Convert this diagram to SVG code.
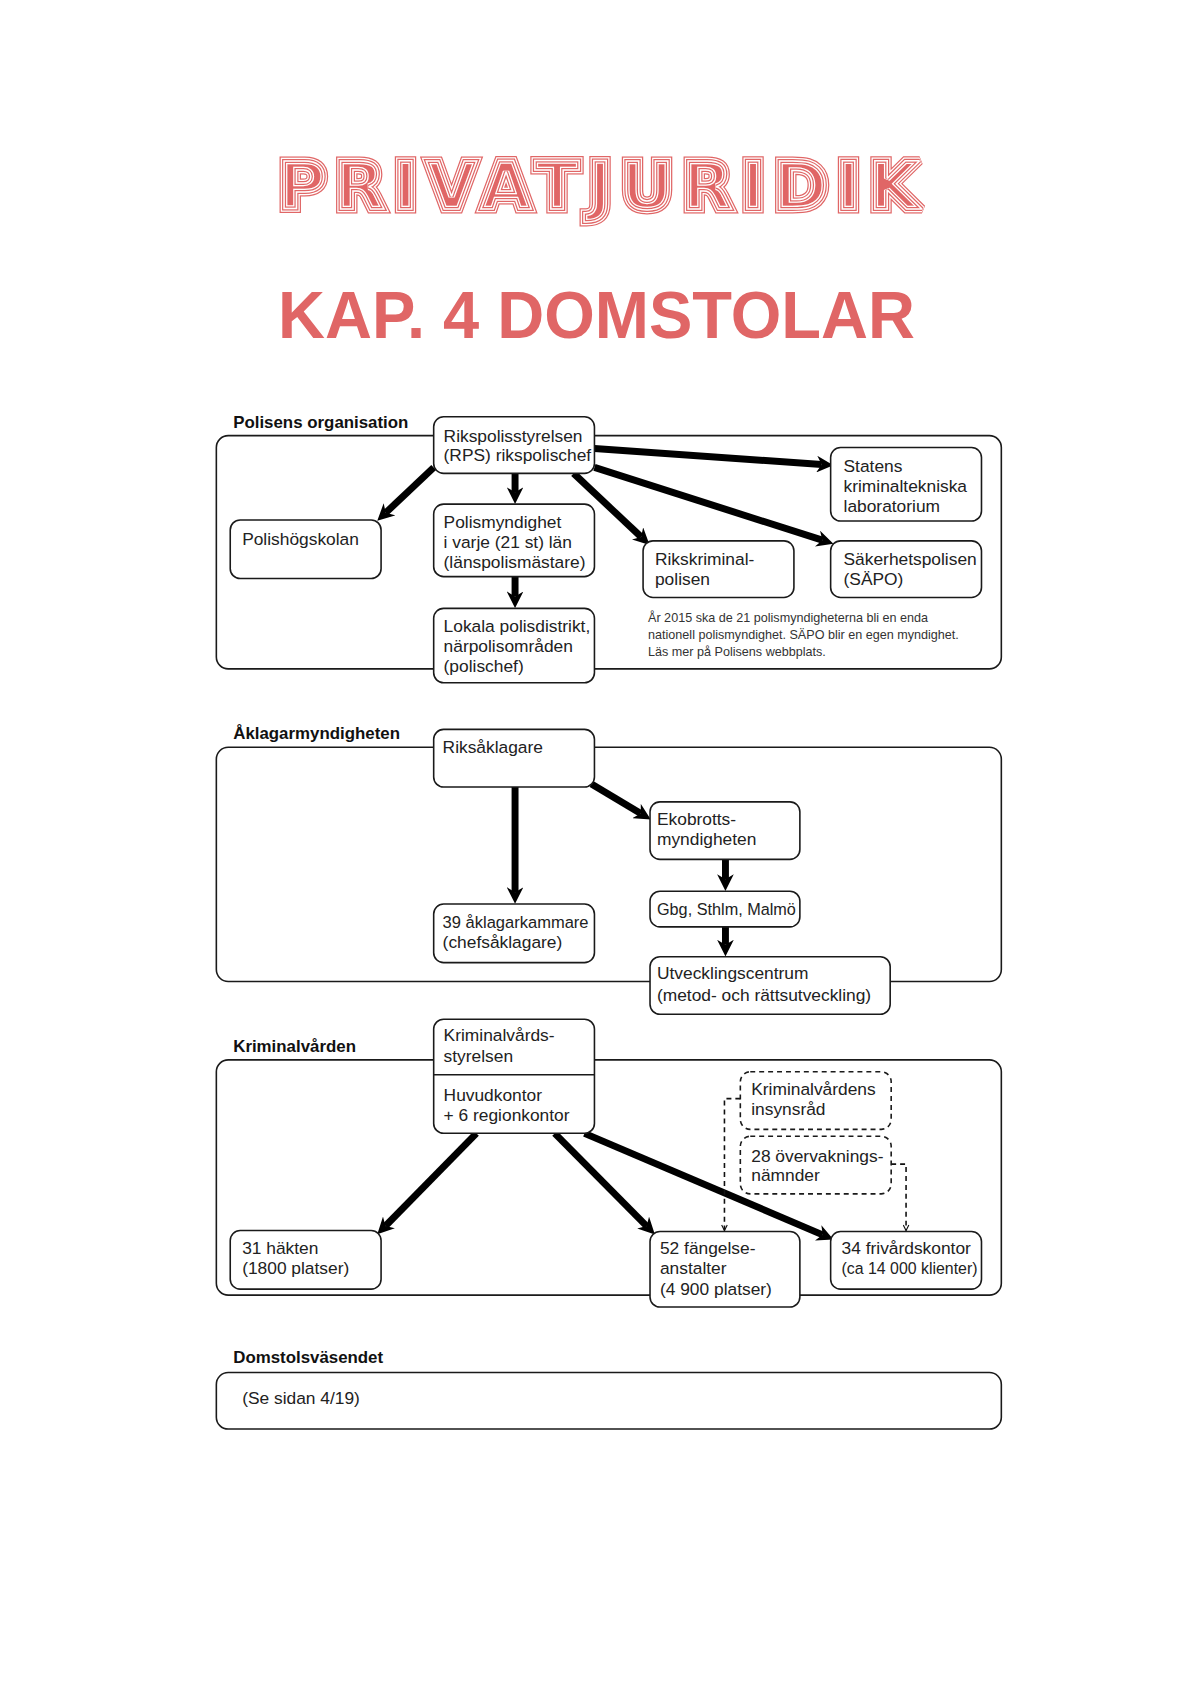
<svg xmlns="http://www.w3.org/2000/svg" xmlns:xlink="http://www.w3.org/1999/xlink" width="1200" height="1697" viewBox="0 0 1200 1697">
<style>
.frame{fill:none;stroke:#1a1a1a;stroke-width:1.6}
.box{fill:#fff;stroke:#1a1a1a;stroke-width:1.6}
.dbox{fill:#fff;stroke:#1a1a1a;stroke-width:1.6;stroke-dasharray:5 4}
.t{font-family:"Liberation Sans",Arial,sans-serif;font-size:17.5px;fill:#222}
.lbl{font-family:"Liberation Sans",Arial,sans-serif;font-size:17px;font-weight:bold;fill:#111}
.note{font-family:"Liberation Sans",Arial,sans-serif;font-size:12.7px;fill:#333}
.thick{fill:none;stroke:#000;stroke-width:7;marker-end:url(#ah)}
.dash{fill:none;stroke:#111;stroke-width:1.6;stroke-dasharray:5 4;marker-end:url(#sh)}
</style>
<defs>
<marker id="ah" viewBox="0 0 10 10" refX="3" refY="5" markerWidth="2.4" markerHeight="2.4" orient="auto" markerUnits="strokeWidth">
<path d="M0,0 L10,5 L0,10 L3,5 z" fill="#000"/>
</marker>
<marker id="sh" viewBox="0 0 10 10" refX="9" refY="5" markerWidth="7" markerHeight="7" orient="auto" markerUnits="userSpaceOnUse">
<path d="M1,1 L9,5 L1,9" fill="none" stroke="#111" stroke-width="1.6"/>
</marker>
<text id="ttl" x="278" y="209" font-family="DejaVu Sans,Verdana,sans-serif" font-weight="bold" font-size="66" textLength="642" lengthAdjust="spacing">PRIVATJURIDIK</text>
</defs>
<rect width="1200" height="1697" fill="#fff"/>
<g id="title" stroke-linejoin="miter" stroke-miterlimit="2">
<use xlink:href="#ttl" fill="#e06666" stroke="#e06666" stroke-width="9"/>
<use xlink:href="#ttl" fill="none" stroke="#fff" stroke-width="6.5"/>
<use xlink:href="#ttl" fill="none" stroke="#e06666" stroke-width="4"/>
<use xlink:href="#ttl" fill="none" stroke="#fff" stroke-width="1.5"/>
</g>
<text id="subtitle" x="278" y="338" font-family="Liberation Sans,Arial,sans-serif" font-weight="bold" font-size="67" fill="#e06666" textLength="637" lengthAdjust="spacingAndGlyphs">KAP. 4 DOMSTOLAR</text>

<g id="diagram" transform="scale(0.9924)">
<g id="frames">
<rect class="frame" x="218" y="439" width="791" height="235" rx="12"/>
<rect class="frame" x="218" y="753" width="791" height="236" rx="12"/>
<rect class="frame" x="218" y="1068" width="791" height="237" rx="12"/>
<rect class="frame" x="218" y="1383" width="791" height="57" rx="12"/>
</g>
<g id="section-labels">
<text class="lbl" x="235" y="431">Polisens organisation</text>
<text class="lbl" x="235" y="745">Åklagarmyndigheten</text>
<text class="lbl" x="235" y="1060">Kriminalvården</text>
<text class="lbl" x="235" y="1373">Domstolsväsendet</text>
</g>

<g id="connectors">
<line class="thick" x1="599" y1="452" x2="828" y2="468"/>
<line class="thick" x1="599" y1="471" x2="828.6" y2="544.3"/>
<line class="thick" x1="578" y1="477" x2="646" y2="541"/>
<line class="thick" x1="437" y1="471" x2="388.7" y2="516.7"/>
<line class="thick" x1="519" y1="477" x2="519" y2="496"/>
<line class="thick" x1="519" y1="581" x2="519" y2="601"/>
<line class="thick" x1="519" y1="793" x2="519" y2="899"/>
<line class="thick" x1="596" y1="790" x2="645.7" y2="819.8"/>
<line class="thick" x1="731" y1="866" x2="731" y2="886"/>
<line class="thick" x1="731" y1="934" x2="731" y2="952"/>
<line class="thick" x1="480" y1="1142" x2="388.4" y2="1235.4"/>
<line class="thick" x1="559" y1="1142" x2="651.6" y2="1235.5"/>
<line class="thick" x1="589" y1="1142" x2="829" y2="1244.3"/>
<path class="dash" d="M746,1107 H730 V1240"/>
<path class="dash" d="M898,1173 H913 V1240"/>
</g>

<g id="n-rps"><rect class="box" x="437" y="420" width="162" height="57" rx="10"/>
<text class="t" x="447" y="445">Rikspolisstyrelsen</text><text class="t" x="447" y="465">(RPS) rikspolischef</text></g>
<g id="n-polishogskolan"><rect class="box" x="232" y="524" width="152" height="59" rx="10"/>
<text class="t" x="244" y="549">Polishögskolan</text></g>
<g id="n-polismyndighet"><rect class="box" x="437" y="508" width="162" height="73" rx="10"/>
<text class="t" x="447" y="532">Polismyndighet</text><text class="t" x="447" y="552">i varje (21 st) län</text><text class="t" x="447" y="572">(länspolismästare)</text></g>
<g id="n-lokala"><rect class="box" x="437" y="613" width="162" height="75" rx="10"/>
<text class="t" x="447" y="637">Lokala polisdistrikt,</text><text class="t" x="447" y="657">närpolisområden</text><text class="t" x="447" y="677">(polischef)</text></g>
<g id="n-rikskrim"><rect class="box" x="648" y="545" width="152" height="57" rx="10"/>
<text class="t" x="660" y="569">Rikskriminal-</text><text class="t" x="660" y="589">polisen</text></g>
<g id="n-statens"><rect class="box" x="837" y="451" width="152" height="74" rx="10"/>
<text class="t" x="850" y="476">Statens</text><text class="t" x="850" y="496">kriminaltekniska</text><text class="t" x="850" y="516">laboratorium</text></g>
<g id="n-sapo"><rect class="box" x="837" y="545" width="152" height="57" rx="10"/>
<text class="t" x="850" y="569">Säkerhetspolisen</text><text class="t" x="850" y="589">(SÄPO)</text></g>
<g id="n-note">
<text class="note" x="653" y="627">År 2015 ska de 21 polismyndigheterna bli en enda</text>
<text class="note" x="653" y="644">nationell polismyndighet. SÄPO blir en egen myndighet.</text>
<text class="note" x="653" y="661">Läs mer på Polisens webbplats.</text></g>

<g id="n-riksaklagare"><rect class="box" x="437" y="735" width="162" height="58" rx="10"/>
<text class="t" x="446" y="759">Riksåklagare</text></g>
<g id="n-39"><rect class="box" x="437" y="911" width="162" height="59" rx="10"/>
<text class="t" x="446" y="935" textLength="147" lengthAdjust="spacingAndGlyphs">39 åklagarkammare</text><text class="t" x="446" y="955">(chefsåklagare)</text></g>
<g id="n-ekobrott"><rect class="box" x="655" y="808" width="151" height="58" rx="10"/>
<text class="t" x="662" y="831">Ekobrotts-</text><text class="t" x="662" y="851">myndigheten</text></g>
<g id="n-gbg"><rect class="box" x="655" y="898" width="151" height="36" rx="10"/>
<text class="t" x="662" y="922" textLength="140" lengthAdjust="spacingAndGlyphs">Gbg, Sthlm, Malmö</text></g>
<g id="n-utv"><rect class="box" x="655" y="964" width="242" height="58" rx="10"/>
<text class="t" x="662" y="987">Utvecklingscentrum</text><text class="t" x="662" y="1009">(metod- och rättsutveckling)</text></g>

<g id="n-kvs"><rect class="box" x="437" y="1027" width="162" height="115" rx="10"/>
<line x1="437" y1="1083" x2="599" y2="1083" stroke="#1a1a1a" stroke-width="1.6"/>
<text class="t" x="447" y="1049">Kriminalvårds-</text><text class="t" x="447" y="1070">styrelsen</text>
<text class="t" x="447" y="1109">Huvudkontor</text><text class="t" x="447" y="1130">+ 6 regionkontor</text></g>
<g id="n-hakten"><rect class="box" x="232" y="1240" width="152" height="59" rx="10"/>
<text class="t" x="244" y="1264">31 häkten</text><text class="t" x="244" y="1284">(1800 platser)</text></g>
<g id="n-fangelse"><rect class="box" x="655" y="1241" width="151" height="76" rx="10"/>
<text class="t" x="665" y="1264">52 fängelse-</text><text class="t" x="665" y="1284">anstalter</text><text class="t" x="665" y="1305">(4 900 platser)</text></g>
<g id="n-frivard"><rect class="box" x="837" y="1241" width="152" height="58" rx="10"/>
<text class="t" x="848" y="1264">34 frivårdskontor</text><text class="t" x="848" y="1284" textLength="137" lengthAdjust="spacingAndGlyphs">(ca 14 000 klienter)</text></g>
<g id="n-insyn"><rect class="dbox" x="746" y="1080" width="152" height="58" rx="10"/>
<text class="t" x="757" y="1103">Kriminalvårdens</text><text class="t" x="757" y="1124">insynsråd</text></g>
<g id="n-overvak"><rect class="dbox" x="746" y="1145" width="152" height="58" rx="10"/>
<text class="t" x="757" y="1171">28 övervaknings-</text><text class="t" x="757" y="1190">nämnder</text></g>

<g id="n-domstol">
<text class="t" x="244" y="1415" font-size="14.5">(Se sidan 4/19)</text></g>
</g>
</svg>
